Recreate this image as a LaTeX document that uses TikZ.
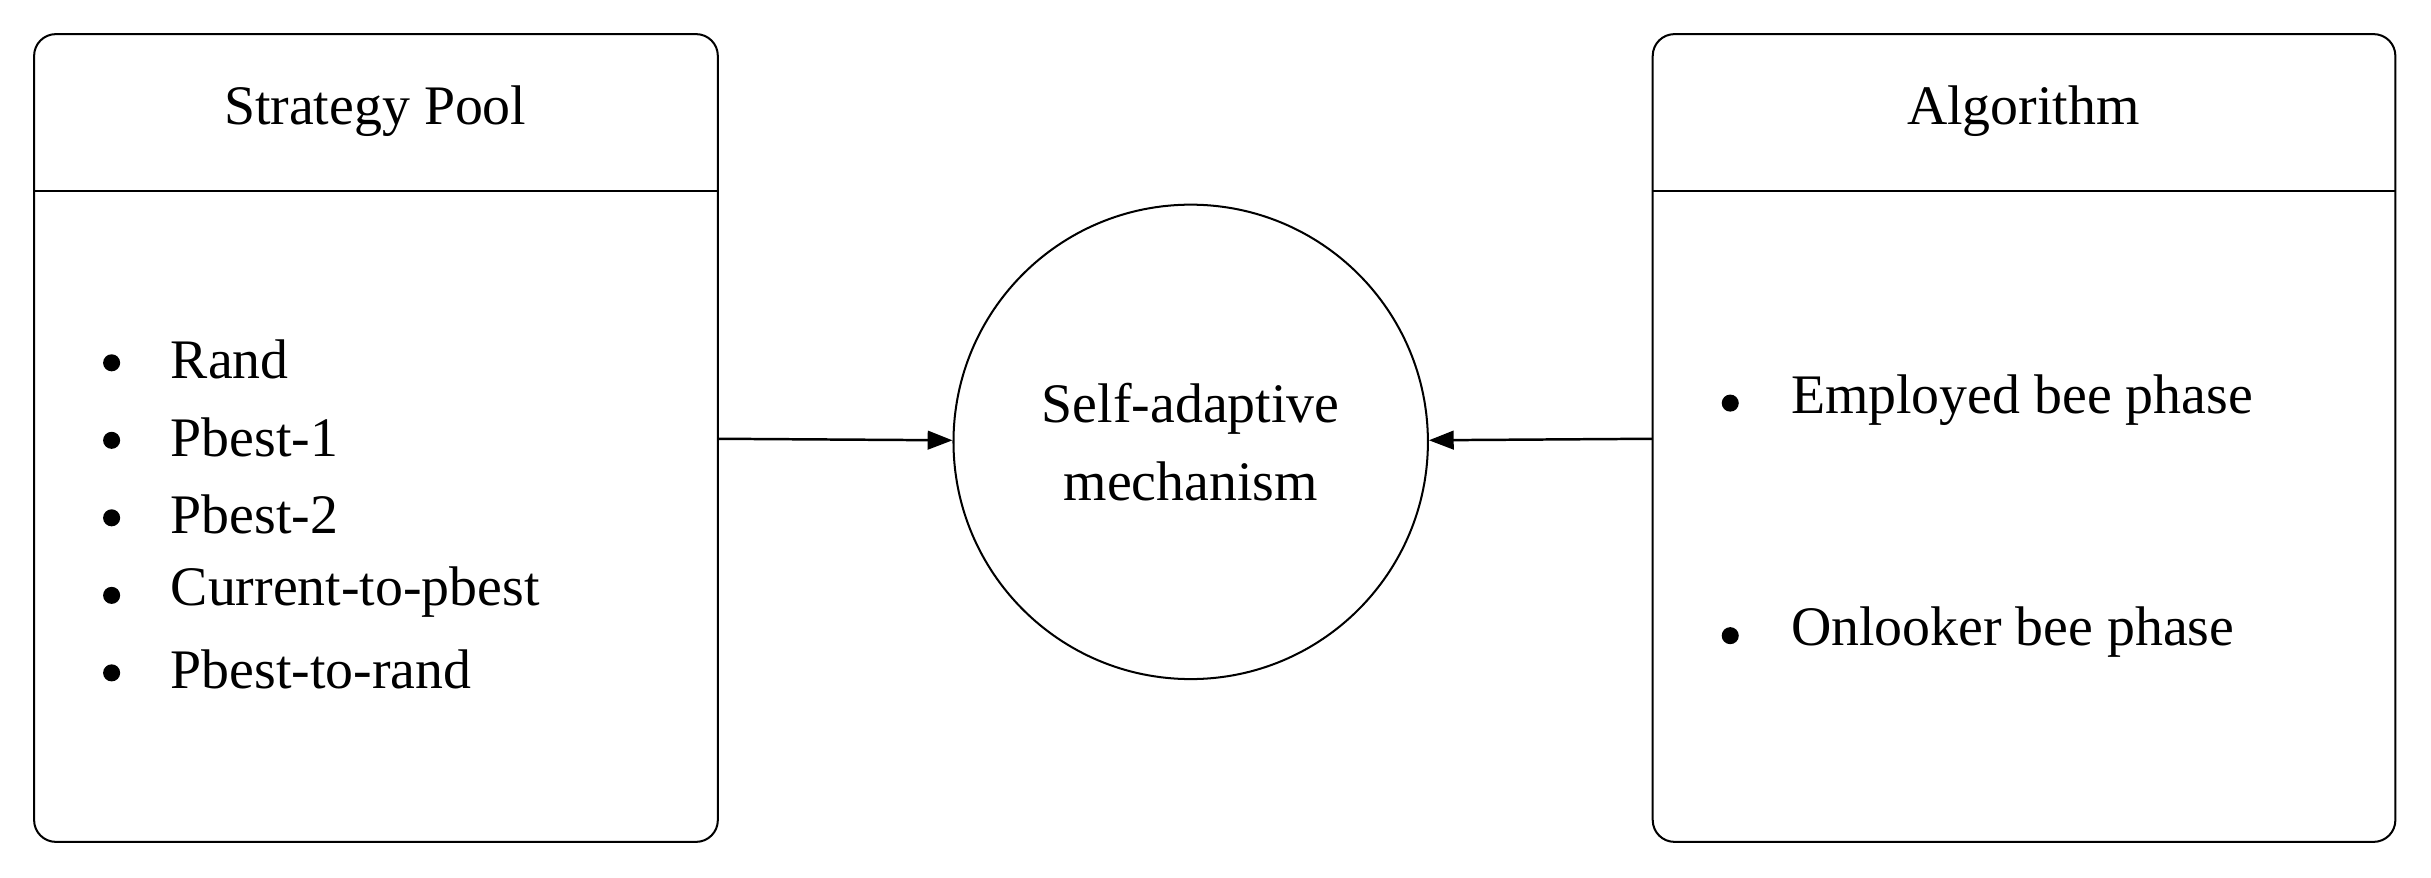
\documentclass[tikz,border=0pt]{standalone}
\usepackage{fontspec}
\setmainfont{Liberation Serif}
\usetikzlibrary{arrows.meta}
\begin{document}
\begin{tikzpicture}[x=1pt,y=-1pt,
  panel/.style={draw,line width=1.3pt,rounded corners=14pt},
  txt/.style={font=\fontsize{36}{50}\selectfont,inner sep=0pt},
  dot/.style={circle,fill,inner sep=0pt,minimum size=11pt},
  conn/.style={line width=1.6pt,-{Triangle[length=16pt,width=12pt]}}]
\useasboundingbox (0,0) rectangle (1568,566);
\draw[panel] (22,22) rectangle (463,543);
\draw[line width=1.3pt] (22,123) -- (463,123);
\node[txt] (t1) at (242,72) {Strategy Pool};
\draw[panel] (1066,22) rectangle (1545,543);
\draw[line width=1.3pt] (1066,123) -- (1545,123);
\node[txt] (t2) at (1305,72) {Algorithm};
\coordinate (lb) at (463,283);
\coordinate (rb) at (1066,283);
\node[draw,circle,line width=1.3pt,minimum size=306pt,inner sep=0pt,txt,align=center] (c) at (768,285) {Self-adaptive\\mechanism};
\foreach \t [count=\i] in {Rand,Pbest-1,Pbest-2,Current-to-pbest,Pbest-to-rand}{
  \node[dot] (b\i) at (72,{184+50*\i}) {};
  \node[txt,anchor=west] (l\i) at (110,{182+50*\i}) {\t};
}
\node[dot] (e1) at (1116,260) {};
\node[txt,anchor=west] (e2) at (1155,258) {Employed bee phase};
\node[dot] (o1) at (1116,410) {};
\node[txt,anchor=west] (o2) at (1155,408) {Onlooker bee phase};
\draw[conn] (lb) -- (c);
\draw[conn] (rb) -- (c);
\end{tikzpicture}
\end{document}
